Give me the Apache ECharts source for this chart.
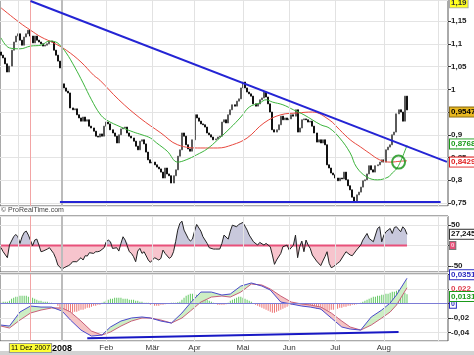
<!DOCTYPE html>
<html>
<head>
<meta charset="utf-8">
<script src="https://cdn.jsdelivr.net/npm/echarts@6.0.0/dist/echarts.min.js"></script>
<style>
  html, body { margin: 0; padding: 0; background: #fff; }
  #chart { width: 474px; height: 355px; }
</style>
</head>
<body>
<div id="chart"></div>
<script>
// trading days on the x axis (index 0 = 21 Nov 2007)
const days = Array.from({ length: 213 }, (_, i) => String(i));
const gridDays = [8, 50, 72, 92, 115, 137, 159, 182, 208];
const yearDay = 29;
const markerDay = 14;
const labelDays = [14, 29, 50, 72, 92, 115, 137, 159, 182];
const labelTexts = ['11 Dez 2007', '2008', 'Feb', 'Mär', 'Apr', 'Mai', 'Jun', 'Jul', 'Aug'];

// daily closes
const firstOpen = 1.082;
const close = [
  1.075, 1.069, 1.056, 1.038, 1.051, 1.086, 1.104, 1.117, 1.122, 1.108,
  1.097, 1.115, 1.122, 1.130, 1.117, 1.102, 1.117, 1.108, 1.104, 1.100,
  1.095, 1.097, 1.100, 1.106, 1.104, 1.086, 1.075, 1.062, 1.047, 1.012,
  1.003, 0.996, 0.992, 0.959, 0.955, 0.957, 0.944, 0.937, 0.930, 0.939,
  0.930, 0.933, 0.919, 0.915, 0.908, 0.897, 0.895, 0.902, 0.897, 0.919,
  0.928, 0.924, 0.911, 0.904, 0.897, 0.882, 0.900, 0.913, 0.915, 0.917,
  0.904, 0.897, 0.893, 0.886, 0.875, 0.867, 0.886, 0.889, 0.880, 0.862,
  0.845, 0.838, 0.840, 0.834, 0.829, 0.825, 0.818, 0.805, 0.827, 0.814,
  0.810, 0.794, 0.810, 0.823, 0.853, 0.867, 0.904, 0.897, 0.878, 0.869,
  0.864, 0.889, 0.944, 0.937, 0.930, 0.924, 0.922, 0.917, 0.904, 0.900,
  0.895, 0.889, 0.891, 0.895, 0.897, 0.928, 0.933, 0.926, 0.944, 0.955,
  0.966, 0.963, 0.974, 0.979, 1.003, 1.016, 1.003, 0.994, 0.990, 0.985,
  0.968, 0.963, 0.968, 0.977, 0.981, 0.994, 0.983, 0.968, 0.950, 0.911,
  0.906, 0.911, 0.922, 0.941, 0.933, 0.937, 0.933, 0.935, 0.944, 0.941,
  0.955, 0.906, 0.915, 0.933, 0.935, 0.933, 0.928, 0.930, 0.919, 0.904,
  0.884, 0.889, 0.882, 0.889, 0.878, 0.834, 0.827, 0.816, 0.812, 0.805,
  0.799, 0.805, 0.803, 0.818, 0.801, 0.788, 0.779, 0.763, 0.752, 0.768,
  0.774, 0.785, 0.799, 0.801, 0.814, 0.832, 0.823, 0.818, 0.832, 0.834,
  0.840, 0.845, 0.840, 0.867, 0.873, 0.878, 0.900, 0.906, 0.946, 0.955,
  0.950, 0.930, 0.985, 0.9547
];

// moving averages [day, value]
const maFast = [
  [0, 1.113], [4, 1.091], [9, 1.089], [14, 1.095], [19, 1.097], [23, 1.106], [26, 1.104],
  [28, 1.097], [31, 1.080], [35, 1.049], [39, 1.014], [43, 0.977], [47, 0.946], [50, 0.933],
  [57, 0.917], [63, 0.906], [67, 0.900], [71, 0.893], [74, 0.882], [79, 0.864], [84, 0.840],
  [88, 0.845], [93, 0.856], [98, 0.869], [103, 0.889], [109, 0.915], [114, 0.939], [118, 0.961],
  [123, 0.970], [126, 0.977], [129, 0.972], [134, 0.966], [139, 0.955], [144, 0.944], [152, 0.922],
  [156, 0.915], [161, 0.893], [166, 0.860], [169, 0.829], [174, 0.807], [179, 0.801], [184, 0.807],
  [186, 0.816], [188, 0.825], [190, 0.842], [193, 0.8768]
];
const maSlow = [
  [0, 1.179], [9, 1.146], [14, 1.130], [19, 1.115], [25, 1.102], [31, 1.086], [38, 1.060],
  [44, 1.031], [47, 1.020], [56, 0.977], [66, 0.937], [76, 0.904], [84, 0.878], [95, 0.871],
  [103, 0.871], [110, 0.878], [117, 0.893], [125, 0.926], [133, 0.944], [141, 0.948], [148, 0.950],
  [156, 0.933], [161, 0.911], [166, 0.889], [171, 0.873], [175, 0.860], [180, 0.845], [185, 0.840],
  [190, 0.842], [193, 0.8429]
];

// drawn lines and marks
const trendTop = [[14, 1.194], [212, 0.8405]];
const support = [[28, 0.7525], [209, 0.7525]];
const crossMark = [[189, 0.840]];

// oscillator [day, value]
const osc = [
  [0, -5.6], [1, -15.4], [3, -30.0], [4, 0.9], [6, 21.2], [7, 26.9], [8, 21.2], [9, 4.9], [10, 21.2],
  [11, 31.8], [12, 35.0], [13, 25.3], [15, -0.8], [16, 13.1], [17, 15.5], [18, 0.9], [19, -15.4],
  [20, -13.8], [22, -8.9], [23, -5.6], [25, -19.5], [26, -31.6], [27, -47.9], [29, -58.5], [30, -54.4],
  [32, -49.5], [33, -46.3], [34, -39.8], [36, -39.8], [38, -30.0], [39, -35.7], [40, -25.1], [41, -26.0],
  [42, -17.8], [44, -19.5], [45, -15.4], [46, -15.4], [47, -13.8], [49, -5.6], [50, 9.0], [51, 13.1],
  [52, 9.0], [53, -7.3], [55, -5.6], [56, -13.8], [57, 4.9], [58, 21.2], [59, 13.1], [61, -15.4],
  [62, -19.5], [63, -27.6], [64, -39.8], [65, -13.8], [66, -7.3], [67, -19.5], [68, -15.4], [70, -35.7],
  [71, -41.4], [72, -35.7], [73, -30.0], [75, -35.7], [76, -31.6], [77, -11.3], [78, -19.5], [80, -31.6],
  [81, -27.6], [82, -15.4], [83, 9.0], [84, 37.5], [85, 53.7], [86, 59.4], [87, 37.5], [89, 17.1],
  [90, 10.6], [91, 15.5], [92, 35.0], [93, 51.3], [95, 35.0], [96, 21.2], [98, 4.9], [99, -5.6],
  [101, -8.9], [102, -8.9], [104, -8.9], [105, 4.9], [106, 25.3], [108, 15.5], [109, 35.0], [110, 49.6],
  [112, 45.6], [113, 51.3], [114, 53.7], [115, 56.2], [117, 37.5], [118, 25.3], [120, 9.0], [122, 0.9],
  [123, 7.4], [125, 0.9], [126, 4.9], [128, -3.2], [129, -23.5], [130, -46.3], [131, -35.7], [133, -19.5],
  [134, -3.2], [136, 0.9], [137, -11.3], [139, 0.9], [140, 25.3], [141, -30.0], [142, -3.2], [143, 10.6],
  [144, -15.4], [145, 13.1], [146, 0.9], [147, -7.3], [148, -23.5], [150, -38.1], [152, -49.5],
  [153, -38.1], [154, -27.6], [155, -15.4], [156, -43.8], [157, -54.4], [158, -52.0], [160, -43.8],
  [161, -39.8], [163, -23.5], [164, -15.4], [166, -23.5], [167, -25.1], [169, -11.3], [171, 0.9],
  [172, 13.1], [174, 29.3], [175, 17.1], [177, 9.0], [179, 41.5], [180, 45.6], [181, 9.0], [182, 25.3],
  [183, 33.4], [185, 41.5], [186, 29.3], [187, 44.0], [188, 45.6], [190, 33.4], [191, 45.6], [192, 39.9],
  [193, 27.245]
];
const oscZero = [[0, 0], [193, 0]];

// MACD
const hist = [
  0.0014, 0.0028, 0.0028, 0.0028,
  0.0041, 0.0069, 0.0083, 0.0097, 0.0097, 0.011, 0.011, 0.011, 0.011, 0.0097, 0.0097,
  0.0083, 0.0069, 0.0055, 0.0041, 0.0041, 0.0028, 0.0028, 0.0028, 0.0014, 0.0014,
  0.0007, 0,
  -0.0028, -0.0055, -0.0083, -0.011, -0.0124, -0.0124, -0.0124, -0.0124, -0.011, -0.011, -0.0097,
  -0.0083, -0.0083, -0.0069, -0.0055, -0.0055, -0.0041, -0.0028, -0.0028, -0.0014, -0.0014,
  0.0014, 0.0028, 0.0041, 0.0055, 0.0069, 0.0069, 0.0083, 0.0083, 0.0083, 0.0083, 0.0069, 0.0069,
  0.0069, 0.0055, 0.0055, 0.0055, 0.0041, 0.0041, 0.0028, 0.0028, 0.0014, 0.0014, 0.0014,
  -0.0014, -0.0028, -0.0028, -0.0028, -0.0028, -0.0014, -0.0014, -0.0007,
  0.0007, 0.0007, 0.0014, 0.0014, 0.0014, 0.0021,
  0.0028, 0.0055, 0.0083, 0.011, 0.0124, 0.0138, 0.0138, 0.0138, 0.0124, 0.011, 0.0097, 0.0083,
  0.0069, 0.0055, 0.0041, 0.0028,
  0.0014, 0,
  -0.0014, -0.0014, -0.0014, -0.0014, -0.0007,
  0.0014,
  0.0041, 0.0055, 0.0069, 0.0083, 0.0097, 0.0097, 0.0083, 0.0069, 0.0055, 0.0041, 0.0028,
  0,
  -0.0014, -0.0028, -0.0041, -0.0055, -0.0069, -0.0083, -0.0097, -0.011, -0.0124, -0.0124, -0.011,
  -0.0097, -0.0083, -0.0069, -0.0055, -0.0041, -0.0028, -0.0014, -0.0014,
  0,
  0.0007, 0.0007, -0.0007, -0.0007, -0.0007,
  -0.0014, -0.0028, -0.0041, -0.0055, -0.0069, -0.0069, -0.0083, -0.0083, -0.0097, -0.0097, -0.0097,
  -0.0083, -0.0083, -0.0069, -0.0069, -0.0055, -0.0055, -0.0041, -0.0041, -0.0028, -0.0028, -0.0014,
  -0.0014, -0.0007,
  0.0007, 0.0014,
  0.0028, 0.0041, 0.0055, 0.0069, 0.0083, 0.0097, 0.0097, 0.011, 0.011, 0.0124, 0.0124, 0.0138,
  0.0138, 0.0152, 0.0166, 0.0166, 0.0179, 0.0193, 0.0193, 0.0179, 0.0152, 0.0131
];
const macdDays = [0, 4, 9, 14, 19, 24, 29, 33, 38, 43, 48, 52, 57, 62, 67, 71, 76, 81, 86, 90, 95,
  100, 105, 109, 114, 119, 124, 128, 133, 138, 143, 147, 152, 157, 162, 166, 171, 176, 181, 185, 188, 193];
const macd = [-0.0294, -0.0308, -0.0114, -0.0032, -0.0046, -0.0046, -0.0101, -0.0225, -0.0363, -0.0446,
  -0.0432, -0.0321, -0.0239, -0.0197, -0.0183, -0.0197, -0.0239, -0.0266, -0.0128, 0.0010, 0.0161,
  0.0161, 0.0120, 0.0134, 0.0244, 0.0286, 0.0244, 0.0189, 0.0023, -0.0004, -0.0032, -0.0046, -0.0073,
  -0.0197, -0.0321, -0.0349, -0.0363, -0.0183, -0.0087, 0.0010, 0.0120, 0.0351];
const signal = [-0.0308, -0.0335, -0.0225, -0.0128, -0.0087, -0.0059, -0.0059, -0.0114, -0.0239, -0.0377,
  -0.0432, -0.0390, -0.0308, -0.0239, -0.0197, -0.0197, -0.0225, -0.0266, -0.0197, -0.0101, 0.0023,
  0.0092, 0.0106, 0.0092, 0.0161, 0.0272, 0.0258, 0.0203, 0.0106, 0.0023, -0.0004, -0.0018, -0.0046,
  -0.0128, -0.0239, -0.0321, -0.0363, -0.0294, -0.0197, -0.0114, -0.0018, 0.0220];
const macdTrend = [[41, -0.0477], [189, -0.0390]];

// last values shown on the right
const topMark = 1.19;
const lastClose = 0.9547;
const lastFast = 0.8768;
const lastSlow = 0.8429;
const oscLast = 27.245;
const macdLast = 0.0351;
const signalLast = 0.022;
const histLast = 0.0131;

const FONT = 'Liberation Sans';
const fmt = v => String(parseFloat(Number(v).toFixed(4))).replace('.', ',');

const candles = close.map((c, i) => {
  const o = i === 0 ? firstOpen : close[i - 1];
  return [o, c, Math.min(o, c), Math.max(o, c)];
});
const bandBase = macdDays.map((d, k) => [d, Math.min(macd[k], signal[k])]);
const bandUp = macdDays.map((d, k) => [d, Math.max(macd[k] - signal[k], 0)]);
const bandDown = macdDays.map((d, k) => [d, Math.max(signal[k] - macd[k], 0)]);
// oscillator split at zero for the two fill colours
const oscPos = osc.map(([d, v]) => [d, Math.max(v, 0)]);
const oscNeg = osc.map(([d, v]) => [d, Math.min(v, 0)]);

function tag(value, style) {
  return {
    yAxis: value,
    lineStyle: { width: 0, color: 'rgba(0,0,0,0)' },
    label: Object.assign({
      show: true, position: 'end', distance: 2,
      fontFamily: FONT, fontSize: 8, fontWeight: 'bold',
      padding: [1, 1, 0, 1], borderWidth: 1, backgroundColor: '#fff'
    }, style)
  };
}

function vLines(i) {
  return {
    type: 'line', xAxisIndex: i, yAxisIndex: i, data: [], z: 1, silent: true,
    markLine: {
      symbol: 'none', silent: true, label: { show: false },
      data: [
        ...gridDays.map(d => ({ xAxis: d, lineStyle: { color: '#e2e2e2', width: 1, type: 'solid' } })),
        { xAxis: yearDay, lineStyle: { color: '#bcbcbc', width: 2, type: 'solid' } },
        { xAxis: markerDay, lineStyle: { color: '#f2a4a4', width: 1, type: 'solid' } }
      ]
    }
  };
}

const xBase = {
  type: 'category', data: days, boundaryGap: true,
  axisLine: { show: false }, axisTick: { show: false }, splitLine: { show: false },
  axisLabel: { show: false }
};
const yBase = {
  type: 'value', position: 'right',
  axisLine: { show: false },
  axisTick: { show: true, length: 3, lineStyle: { color: '#333' } },
  splitLine: { show: true, lineStyle: { color: '#e4e4e4', width: 1 } },
  axisLabel: {
    showMinLabel: false, showMaxLabel: false, margin: 3,
    fontFamily: FONT, fontSize: 8, fontWeight: 'bold', color: '#222', formatter: fmt
  }
};

const series = [
  vLines(0), vLines(1), vLines(2),
  {
    name: 'Kurs', type: 'candlestick', xAxisIndex: 0, yAxisIndex: 0, z: 3,
    data: candles, barWidth: 1.5,
    itemStyle: { color: '#9a9a9a', color0: '#111', borderColor: '#5a5a5a', borderColor0: '#111', borderWidth: 1 },
    markLine: {
      symbol: 'none', silent: true,
      data: [
        tag(lastClose, { formatter: fmt(lastClose), color: '#000', backgroundColor: '#e9b820', borderColor: '#8a6a10' }),
        tag(topMark, { formatter: fmt(topMark), color: '#333', backgroundColor: '#ffff20', borderColor: '#aaa' })
      ]
    }
  },
  {
    name: 'MA lang', type: 'line', xAxisIndex: 0, yAxisIndex: 0, z: 4, data: maSlow,
    smooth: 0.4, symbol: 'none', lineStyle: { color: '#e8483e', width: 1 },
    markLine: { symbol: 'none', silent: true,
      data: [tag(lastSlow, { formatter: fmt(lastSlow), color: '#e02020', borderColor: '#e02020' })] }
  },
  {
    name: 'MA kurz', type: 'line', xAxisIndex: 0, yAxisIndex: 0, z: 4, data: maFast,
    smooth: 0.4, symbol: 'none', lineStyle: { color: '#3cb43c', width: 1 },
    markLine: { symbol: 'none', silent: true,
      data: [tag(lastFast, { formatter: fmt(lastFast), color: '#1a9a1a', borderColor: '#1a9a1a' })] }
  },
  {
    type: 'line', xAxisIndex: 0, yAxisIndex: 0, z: 5, data: trendTop, symbol: 'none',
    lineStyle: { color: '#2424d4', width: 2 }
  },
  {
    type: 'line', xAxisIndex: 0, yAxisIndex: 0, z: 5, data: support, symbol: 'none',
    lineStyle: { color: '#2424d4', width: 2 }
  },
  {
    type: 'scatter', xAxisIndex: 0, yAxisIndex: 0, z: 6, data: crossMark, symbol: 'circle', symbolSize: 13,
    itemStyle: { color: 'rgba(0,0,0,0)', borderColor: '#129012', borderWidth: 2 }
  },
  {
    type: 'line', xAxisIndex: 1, yAxisIndex: 1, z: 2, data: oscPos, symbol: 'none',
    lineStyle: { width: 0 }, areaStyle: { color: '#c8c8dc', opacity: 1 }
  },
  {
    type: 'line', xAxisIndex: 1, yAxisIndex: 1, z: 2, data: oscNeg, symbol: 'none',
    lineStyle: { width: 0 }, areaStyle: { color: '#f7c4cd', opacity: 1 }
  },
  {
    name: 'Oszillator', type: 'line', xAxisIndex: 1, yAxisIndex: 1, z: 4, data: osc, symbol: 'none',
    lineStyle: { color: '#222', width: 1 },
    markLine: { symbol: 'none', silent: true,
      data: [tag(oscLast, { formatter: fmt(oscLast), color: '#111', borderColor: '#333' })] }
  },
  {
    type: 'line', xAxisIndex: 1, yAxisIndex: 1, z: 3, data: oscZero, symbol: 'none',
    lineStyle: { color: '#e8507a', width: 2 },
    markLine: { symbol: 'none', silent: true,
      data: [tag(0, { formatter: '0', color: '#fbd0dc', backgroundColor: '#e8507a', borderColor: '#777', fontSize: 6, padding: [1, 1, 0, 1] })] }
  },
  {
    name: 'Histogramm', type: 'bar', xAxisIndex: 2, yAxisIndex: 2, z: 2, data: hist, barWidth: 1,
    itemStyle: { color: p => (p.value >= 0 ? '#62c862' : '#ec7474') },
    markLine: { symbol: 'none', silent: true,
      data: [
        { yAxis: 0, lineStyle: { color: '#7c7cd6', width: 1, type: 'solid' }, label: { show: false } },
        tag(0, { formatter: '0', color: '#2a2ac0', borderColor: '#2a2ac0', fontSize: 7 })
      ] }
  },
  {
    type: 'line', xAxisIndex: 2, yAxisIndex: 2, z: 3, data: bandBase, symbol: 'none',
    stack: 'band', stackStrategy: 'all', lineStyle: { width: 0 }
  },
  {
    type: 'line', xAxisIndex: 2, yAxisIndex: 2, z: 3, data: bandUp, symbol: 'none',
    stack: 'band', stackStrategy: 'all', lineStyle: { width: 0 }, areaStyle: { color: '#cdeec4', opacity: 1 }
  },
  {
    type: 'line', xAxisIndex: 2, yAxisIndex: 2, z: 3, data: bandDown, symbol: 'none',
    stack: 'band', stackStrategy: 'all', lineStyle: { width: 0 }, areaStyle: { color: '#f5c4c4', opacity: 1 }
  },
  {
    name: 'Signal', type: 'line', xAxisIndex: 2, yAxisIndex: 2, z: 4,
    data: macdDays.map((d, k) => [d, signal[k]]), symbol: 'none',
    lineStyle: { color: '#c8607a', width: 1 },
    markLine: { symbol: 'none', silent: true,
      data: [tag(signalLast, { formatter: fmt(signalLast), color: '#e04050', borderColor: '#fff' })] }
  },
  {
    name: 'MACD', type: 'line', xAxisIndex: 2, yAxisIndex: 2, z: 4,
    data: macdDays.map((d, k) => [d, macd[k]]), symbol: 'none',
    lineStyle: { color: '#4a4acc', width: 1 },
    markLine: { symbol: 'none', silent: true,
      data: [
        tag(macdLast, { formatter: fmt(macdLast), color: '#2a2ac0', borderColor: '#2a2ac0' }),
        tag(histLast, { formatter: fmt(histLast), color: '#1a9a1a', borderColor: '#1a9a1a' })
      ] }
  },
  {
    type: 'line', xAxisIndex: 2, yAxisIndex: 2, z: 5, data: macdTrend, symbol: 'none',
    lineStyle: { color: '#1818c4', width: 2 }
  }
];

const chart = echarts.init(document.getElementById('chart'));
chart.setOption({
  animation: false,
  backgroundColor: '#fff',
  textStyle: { fontFamily: FONT },
  grid: [
    { left: 0, top: 0, width: 448, height: 206, show: true, borderColor: '#555', borderWidth: 1 },
    { left: 0, top: 216, width: 448, height: 56, show: true, borderColor: '#555', borderWidth: 1 },
    { left: 0, top: 274, width: 448, height: 67, show: true, borderColor: '#555', borderWidth: 1 }
  ],
  xAxis: [
    Object.assign({}, xBase, { gridIndex: 0 }),
    Object.assign({}, xBase, { gridIndex: 1 }),
    Object.assign({}, xBase, {
      gridIndex: 2,
      axisLabel: {
        show: true, margin: 3, fontFamily: FONT, fontSize: 8, color: '#333',
        showMinLabel: true, showMaxLabel: true, hideOverlap: false,
        interval: i => labelDays.includes(i),
        formatter: v => {
          const k = labelDays.indexOf(Number(v));
          if (k < 0) return '';
          if (k === 0) return '{hl|' + labelTexts[k] + '}';
          if (k === 1) return '{yr|' + labelTexts[k] + '}';
          return labelTexts[k];
        },
        rich: {
          hl: { backgroundColor: '#ffff33', borderColor: '#999', borderWidth: 1, padding: [1, 1, 0, 1],
            color: '#000', fontSize: 7, fontFamily: FONT },
          yr: { fontWeight: 'bold', fontSize: 9, color: '#000', fontFamily: FONT }
        }
      }
    })
  ],
  yAxis: [
    Object.assign({}, yBase, { gridIndex: 0, min: 0.7435, max: 1.1963, splitNumber: 9 }),
    Object.assign({}, yBase, {
      gridIndex: 1, min: -65, max: 72, splitNumber: 3,
      axisLabel: Object.assign({}, yBase.axisLabel, { formatter: v => (v === 0 ? '' : fmt(v)) })
    }),
    Object.assign({}, yBase, {
      gridIndex: 2, min: -0.0514, max: 0.041, splitNumber: 5,
      axisLabel: Object.assign({}, yBase.axisLabel, { formatter: v => (v < 0 ? fmt(v) : '') })
    })
  ],
  graphic: [
    { type: 'text', left: 1, top: 207, style: { text: '© ProRealTime.com', font: '7px ' + FONT, fill: '#444' } },
    { type: 'rect', left: 0, top: 351, shape: { width: 474, height: 4 }, style: { fill: '#d2d2d2' } }
  ],
  series: series
});
</script>
</body>
</html>
